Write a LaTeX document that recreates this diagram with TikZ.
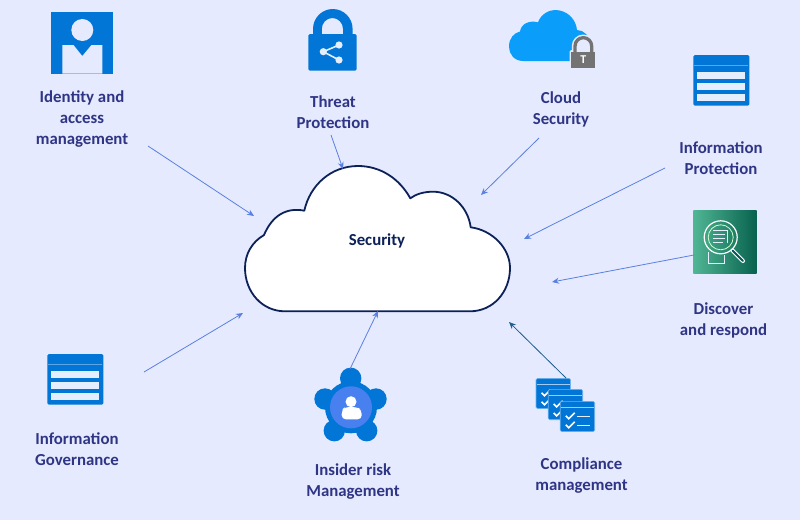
\documentclass[tikz,border=0pt]{standalone}
\usepackage{fontspec}
\setmainfont{Carlito}
\usetikzlibrary{arrows.meta}
\definecolor{pagebg}{HTML}{E6EAFE}
\definecolor{iconblue}{HTML}{0276D6}
\definecolor{skyblue}{HTML}{0A9EFA}
\definecolor{lockgray}{HTML}{737373}
\definecolor{labelblue}{HTML}{2F3585}
\definecolor{navy}{HTML}{0C2158}
\definecolor{linkblue}{HTML}{5A80E0}
\definecolor{rowtint}{HTML}{E4EEFD}
\definecolor{badgeblue}{HTML}{4880F0}
\definecolor{greenleft}{HTML}{50B694}
\definecolor{greenright}{HTML}{08624E}
\begin{document}
\begin{tikzpicture}[x=1pt, y=-1pt,
    label/.style={
        text=labelblue,
        font=\bfseries\fontsize{16.8}{21}\selectfont,
        align=center,
        inner sep=0pt
    },
    link/.style={
        draw=linkblue,
        line width=0.8pt,
        -{Stealth[length=7pt,width=6pt]}
    },
    infotable/.pic={
        \fill[iconblue, rounded corners=1.5pt] (0,0) rectangle (56,50.7);
        \draw[rowtint!40!iconblue, line width=0.7pt] (1,10.3) -- (55,10.3);
        \fill[rowtint] (4,16.7) rectangle (51.4,24);
        \fill[rowtint] (4,27.7) rectangle (51.4,34.7);
        \fill[rowtint] (4,38.7) rectangle (51.4,45.7);
    },
    checkcard/.pic={
        \fill[iconblue, rounded corners=1.5pt, draw=rowtint!50!iconblue, line width=0.6pt] (0,0) rectangle (34.5,30.3);
        \draw[rowtint!70!iconblue, line width=0.8pt] (0.5,5.7) -- (34,5.7);
        \draw[white, line width=1.6pt] (5.5,14.5) -- (8.5,17.5) -- (14.5,11.5);
        \draw[white, line width=1.6pt] (5.5,23.5) -- (8.5,26.5) -- (14.5,20.5);
        \draw[rowtint, line width=1.3pt] (17,15) -- (29.5,15);
        \draw[rowtint, line width=1.3pt] (17,24) -- (29.5,24);
    }
]

% --- Background ---
\fill[pagebg] (0,0) rectangle (800,520);
\useasboundingbox (0,0) rectangle (800,520);

% --- Central cloud ---
\draw[navy, fill=white, line width=1.8pt, line join=round]
    (285,311.3) -- (470,311.3)
    .. controls (493,311.3) and (510,292) .. (510,268)
    .. controls (510,248) and (492,230) .. (470.7,227.3)
    .. controls (468,207) and (452,191.7) .. (433,191.7)
    .. controls (424,191.7) and (416,194) .. (410.3,198.3)
    .. controls (399,178) and (380,166) .. (358,166)
    .. controls (331,166) and (310,185) .. (304.3,210.7)
    .. controls (286,207) and (272,216) .. (264,235)
    .. controls (252,242) and (245,254) .. (245,268)
    .. controls (245,292) and (262,311.3) .. (285,311.3) -- cycle;
\node[label, text=navy] (security) at (377,241) {Security};

% --- Identity icon ---
\fill[iconblue] (51,12.3) rectangle (113,73.5);
\fill[pagebg] (82.3,30) circle (11);
\fill[pagebg] (62.3,73.5) -- (62.3,45) -- (73.5,45) -- (82.3,56) -- (91.5,45) -- (102.3,45) -- (102.3,73.5) -- cycle;
\node[label] (identity) at (82,119) {Identity and\\access\\management};

% --- Threat icon ---
\fill[iconblue] (313,36) -- (313,29) arc[start angle=180, end angle=360, x radius=19.8, y radius=20] -- (352.6,36) -- (343,36)
    -- (343,29) arc[start angle=360, end angle=180, x radius=10.6, y radius=11] -- (321.8,36) -- cycle;
\fill[iconblue, rounded corners=1.5pt] (308.3,34) rectangle (356.7,70.7);
\draw[rowtint, line width=1.6pt] (339,45) -- (323.3,51.7) -- (339,60);
\fill[rowtint] (339,45) circle (3.6) (323.3,51.7) circle (3.6) (339,60) circle (3.6);
\node[label] (threat) at (333,112.5) {Threat\\Protection};

% --- Cloud security icon ---
\fill[skyblue] (523.3,61) .. controls (514,61) and (509,54) .. (509,46.7)
    .. controls (509,38) and (514,33) .. (520,31.5)
    .. controls (521,24) and (529,20) .. (538,22.3)
    .. controls (541,14) and (549,10) .. (555,10)
    .. controls (567,10) and (576,19) .. (577,30)
    .. controls (584,30) and (590,36) .. (590,45)
    .. controls (590,54) and (584,61) .. (575,61) -- cycle;
\draw[pagebg, fill=pagebg, line width=3pt, line join=round] (571,67.7) -- (571,51.7) -- (573.3,51.7) -- (573.3,46)
    arc[start angle=180, end angle=360, radius=10] -- (593.3,51.7) -- (595,51.7) -- (595,67.7) -- cycle;
\fill[lockgray] (573.3,52) -- (573.3,46) arc[start angle=180, end angle=360, radius=10] -- (593.3,52) -- (590,52)
    -- (590,46) arc[start angle=360, end angle=180, radius=6.65] -- (576.7,52) -- cycle;
\fill[lockgray] (571,51.7) rectangle (595,67.7);
\node[text=white, font=\bfseries\fontsize{12}{12}\selectfont, inner sep=0pt] (lockletter) at (583.3,59.5) {T};
\node[label] (cloud) at (561,109.5) {Cloud\\Security};

% --- Information Protection icon ---
\pic at (693.3,55) {infotable};
\node[label] (protection) at (721,158) {Information\\Protection};

% --- Discover icon ---
\shade[left color=greenleft, right color=greenright] (693.3,210) rectangle (756.7,273.3);
\draw[rowtint, line width=1pt] (708.3,252) -- (708.3,263) -- (724,263) -- (724,255);
\draw[white, line width=1.2pt] (720.7,237.3) circle (16.5);
\draw[white!80!green, line width=0.8pt] (720.7,237.3) circle (12.5);
\draw[rowtint, line width=0.9pt] (713,230) -- (727,230) -- (727,243);
\draw[rowtint, line width=0.9pt] (713,234) -- (725,234);
\draw[rowtint, line width=0.9pt] (713,238) -- (725,238);
\draw[rowtint, line width=0.9pt] (713,242) -- (723,242);
\draw[white, line width=4pt, line cap=round] (732.5,250.5) -- (743,261);
\draw[black!30!teal, line width=2pt, line cap=round] (732.5,250.5) -- (743,261);
\node[label] (discover) at (723.5,320) {Discover\\and respond};

% --- Compliance icon ---
\pic at (536,378.3) {checkcard};
\pic at (548.2,389.4) {checkcard};
\pic at (560.2,401.3) {checkcard};
\node[label] (compliance) at (581.5,476) {Compliance\\management};

% --- Insider risk icon ---
\fill[iconblue] (351,407.3) circle (26);
\foreach \px/\py in {350.7/378.3, 376/399, 366.7/430.7, 334.3/430.7, 325/399}
    \fill[iconblue] (\px,\py) circle (10.7);
\foreach \px/\py in {350.7/378.3, 376/399, 366.7/430.7, 334.3/430.7, 325/399}
    \draw[iconblue, line width=13pt] (351,407.3) -- (\px,\py);
\fill[badgeblue] (351,407.3) circle (21);
\fill[white] (351,401.7) circle (5.5);
\fill[white, rounded corners=4pt] (341.7,419.3) -- (341.7,410) -- (345,407) -- (357,407) -- (361.7,410) -- (361.7,419.3) -- cycle;
\node[label] (insider) at (353,482) {Insider risk\\Management};

% --- Information Governance icon ---
\pic at (47.3,354) {infotable};
\node[label] (governance) at (77,449) {Information\\Governance};

% --- Link ends ---
\coordinate (identitytail) at (148,146);
\coordinate (identitytip) at (254,216);
\coordinate (threattail) at (331,135);
\coordinate (threattip) at (343,169);
\coordinate (cloudtail) at (539,138);
\coordinate (cloudtip) at (481,195);
\coordinate (protectiontail) at (665,168);
\coordinate (protectiontip) at (524,239);
\coordinate (discovertail) at (694,255);
\coordinate (discovertip) at (552,282);
\coordinate (compliancetail) at (566,378);
\coordinate (compliancetip) at (509,322);
\coordinate (insidertail) at (350,369);
\coordinate (insidertip) at (378,311);
\coordinate (governancetail) at (144,372);
\coordinate (governancetip) at (243,313);

% --- Links ---
\draw[link] (identitytail) -- (identitytip);
\draw[link] (threattail) -- (threattip);
\draw[link] (cloudtail) -- (cloudtip);
\draw[link] (protectiontail) -- (protectiontip);
\draw[link] (discovertail) -- (discovertip);
\draw[link, draw=navy!50!teal!70!linkblue, fill=linkblue] (compliancetail) -- (compliancetip);
\draw[link] (insidertail) -- (insidertip);
\draw[link] (governancetail) -- (governancetip);

\end{tikzpicture}
\end{document}
